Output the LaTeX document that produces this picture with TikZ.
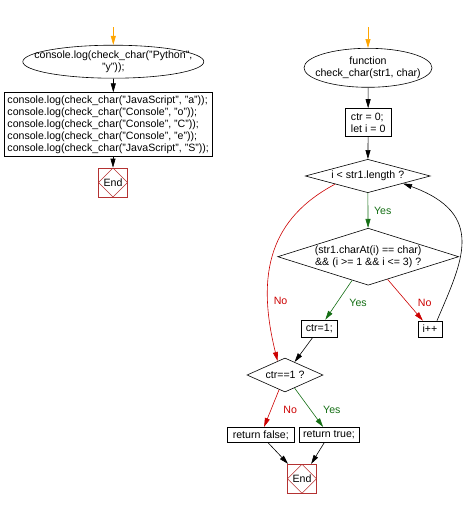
\documentclass[tikz,border=0pt]{standalone}
\usepackage{fontspec}
\setmainfont{Liberation Sans}
\usetikzlibrary{shapes.geometric,arrows.meta,positioning}
\definecolor{flowred}{RGB}{204,0,0}
\definecolor{flowgreen}{RGB}{20,110,20}
\definecolor{endred}{RGB}{180,50,50}
\definecolor{startorange}{RGB}{255,165,0}

\begin{document}
\begin{tikzpicture}[x=1pt,y=-1pt,line width=0.6pt,>={Triangle[length=9pt,width=5pt]},
    every node/.style = {font=\fontsize{10.6}{12.1}\selectfont},
    io/.style = {draw, ellipse, inner xsep=-20pt, inner ysep=-5pt, align=center},
    main/.style = {draw, rectangle, inner xsep=2pt, inner ysep=0pt},
    cond/.style = {draw, diamond, inner sep=0pt, align=center},
    endnode/.style = {draw=endred, rectangle, minimum size=29pt, inner sep=0pt,
        path picture={\draw[endred] (path picture bounding box.north) -- (path picture bounding box.east)
            -- (path picture bounding box.south) -- (path picture bounding box.west) -- cycle;}}]
                \useasboundingbox (0,0) rectangle (474,506);
                % left chart
                \coordinate (s1) at (113.3,27);
                \node[io, minimum width=181pt, minimum height=33pt] (1) at (113.3,61.7) {console.log(check\_char("Python",\\"y"));};
                \node[main, align=left, minimum width=208pt, minimum height=64pt] (2) at (108.2,124.7)
                    {console.log(check\_char("JavaScript", "a"));\\console.log(check\_char("Console", "o"));\\console.log(check\_char("Console", "C"));\\console.log(check\_char("Console", "e"));\\console.log(check\_char("JavaScript", "S"));};
                \node[endnode] (3) at (113,182.5) {End};
                % right chart
                \coordinate (s2) at (368,27);
                \node[io, minimum width=128pt, minimum height=39pt] (4) at (368,67.8) {function\\check\_char(str1, char)};
                \node[main, align=left, minimum width=46pt, minimum height=28pt] (5) at (368.2,122.5) {ctr = 0;\\let i = 0};
                \node[cond, shape aspect=3.7, minimum width=125pt, minimum height=33.4pt] (6) at (367.8,176) {i < str1.length ?};
                \node[cond, shape aspect=3.2, minimum width=181pt, minimum height=57pt] (7) at (368.2,256.7) {(str1.charAt(i) == char)\\\&\& (i >= 1 \&\& i <= 3) ?};
                \node[main, minimum width=35.3pt, minimum height=17pt] (8) at (319.3,328.5) {ctr=1;};
                \node[main, minimum width=24pt, minimum height=16pt] (9) at (430,329) {i++};
                \node[cond, shape aspect=2.2, minimum width=76pt, minimum height=34pt] (10) at (285,375) {ctr==1 ?};
                \node[main, minimum width=67pt, minimum height=15.4pt] (11) at (260.8,435) {return false;};
                \node[main, minimum width=60pt, minimum height=15.4pt] (12) at (329,435) {return true;};
                \node[endnode] (13) at (302,478.7) {End};
                \path[->,color=startorange]
                    (s1) edge (1)
                    (s2) edge (4);
                \path[->]
                    (1) edge (1 |- 2.north)
                    (2.south -| 3) edge (3)
                    (4) edge (5)
                    (5) edge (6)
                    (8) edge (10)
                    (11) edge (13)
                    (12) edge (13)
                    (9.50) edge[out=67, in=340, out looseness=1.17, in looseness=1.62] (6.348);
                \path[->,color=flowgreen]
                    (6) edge node[pos=0.5, right=2.5pt] {Yes} (7)
                    (7) edge node[pos=0.57, right=9pt] {Yes} (8)
                    (10) edge node[pos=0.56, right=9pt] {Yes} (12);
                \path[->,color=flowred]
                    (6.194) edge[out=208, in=104, in looseness=1.26] node[pos=0.75, right=2pt] {No} (10.118)
                    (7) edge node[pos=0.56, right=7pt] {No} (9)
                    (10) edge node[pos=0.55, right=9pt] {No} (11);
            \end{tikzpicture}
\end{document}
